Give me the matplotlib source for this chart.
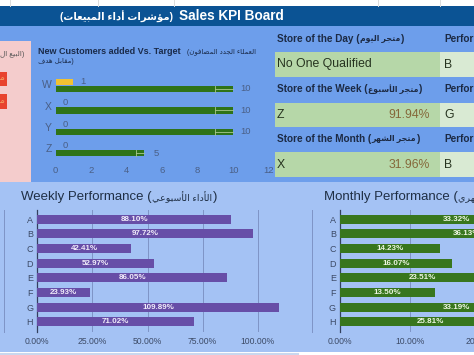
import unicodedata
import matplotlib
matplotlib.use("Agg")
import matplotlib.pyplot as plt
from matplotlib.patches import Rectangle

W, H = 474, 355
FAM = ['Liberation Sans', 'DejaVu Sans']
plt.rcParams['font.family'] = FAM

# ---- data
cust_cats = ['W', 'X', 'Y', 'Z']
cust_actual = [1, 0, 0, 0]
cust_target = [10, 10, 10, 5]
perf_cats = ['A', 'B', 'C', 'D', 'E', 'F', 'G', 'H']
weekly = [88.10, 97.72, 42.41, 52.97, 86.05, 23.93, 109.89, 71.02]
monthly = [33.32, 36.13, 14.23, 16.07, 23.51, 13.50, 33.19, 25.81]
store_names = ['No One Qualified', 'Z', 'X']
store_values = ['', '91.94%', '31.96%']
performers = ['B', 'G', 'B']

# ---- minimal Arabic shaping (matplotlib does not shape or reorder)
FORMS = {}
for cp in list(range(0xFE70, 0xFEFD)):
    ch = chr(cp)
    d = unicodedata.decomposition(ch).split()
    if len(d) == 2 and d[0] in ('<isolated>', '<final>', '<initial>', '<medial>'):
        FORMS.setdefault(chr(int(d[1], 16)), {})[d[0].strip('<>')] = ch
NOJOIN_NEXT = set('اأإآدذرزوؤة')

def ar(s):
    """Return Arabic text in visual order using presentation forms."""
    out = []
    for i, c in enumerate(s):
        if c not in FORMS:
            out.append(c)
            continue
        p = s[i - 1] if i else ' '
        n = s[i + 1] if i + 1 < len(s) else ' '
        left = p in FORMS and p not in NOJOIN_NEXT
        right = n in FORMS and c not in NOJOIN_NEXT
        f = FORMS[c]
        key = 'medial' if left and right else 'final' if left else 'initial' if right else 'isolated'
        out.append(f.get(key, f.get('final' if left else 'isolated', c)))
    return ''.join(reversed(out))

TITLE_AR = ar('مؤشرات أداء المبيعات')

fig = plt.figure(figsize=(W / 100, H / 100), dpi=100, facecolor='white')

# ---- page layer in pixel coordinates
pg = fig.add_axes([0, 0, 1, 1])
pg.set_xlim(0, W)
pg.set_ylim(H, 0)
pg.axis('off')

def rect(x0, y0, x1, y1, c, **kw):
    pg.add_patch(Rectangle((x0, y0), x1 - x0, y1 - y0, fc=c, ec='none', **kw))

def mixed(x, y, latin, arabic, fs, fsa, color, weight='normal'):
    """Latin text followed by a smaller parenthesised Arabic run."""
    t = pg.text(x, y, latin + ' (', color=color, fontsize=fs, fontweight=weight, va='center')
    r = fig.canvas.get_renderer()
    xa = x + t.get_window_extent(r).width + 0.5
    t2 = pg.text(xa, y, ar(arabic), color=color, fontsize=fsa, fontweight=weight, va='center')
    xb = xa + t2.get_window_extent(r).width + 0.5
    pg.text(xb, y, ')', color=color, fontsize=fs, fontweight=weight, va='center')

for x in (10, 98, 174, 378, 440):
    pg.plot([x, x], [0, 6], color='#dddddd', lw=0.7)
rect(0, 6, W, 26, '#0b5394')
rect(0, 26, W, 183, '#6d9eeb')
rect(0, 41, 31, 183, '#f4cccc')
rect(0, 182, W, 352, '#a4c2f4')
pg.plot([0, 298], [353.5, 353.5], color='#c9d7ee', lw=1.5)

# title
pg.text(284, 16.5, 'Sales KPI Board', color='white', fontsize=9.8, fontweight='bold', ha='right', va='center')
pg.text(173, 16.5, '(' + TITLE_AR + ')', color='white', fontsize=7.2, fontweight='bold', ha='right', va='center')

# left clipped panel
pg.text(24, 54, ar('البيع ال') + ')', color='#555555', fontsize=5.2, ha='right', va='center')
for y0, y1 in ((72, 86), (94, 109)):
    rect(0, y0, 7, y1, '#e8432e')
    pg.text(1.5, (y0 + y1) / 2, ar('هـ'), color='#f6b26b', fontsize=5, ha='center', va='center')

# customers title
pg.text(38, 52, 'New Customers added Vs. Target', color='#1a2b4a', fontsize=6.5, fontweight='bold', va='center')
pg.text(187, 52, '(' + ar('العملاء الجدد المضافون'), color='#1a2b4a', fontsize=5.0, va='center')
pg.text(38, 61.5, ar('مقابل هدف') + ')', color='#1a2b4a', fontsize=5.0, va='center')

# KPI table
rows = [('Store of the Day', 'متجر اليوم', 39, 52, 77),
        ('Store of the Week', 'متجر الأسبوع', 89, 103, 127),
        ('Store of the Month', 'متجر الشهر', 139, 152, 177)]
for i, (lat, arb, ty, y0, y1) in enumerate(rows):
    mixed(277, ty, lat, arb, 7.2, 5.6, '#1c2a44', 'bold')
    pg.text(444, ty, 'Perfor', color='#1c2a44', fontsize=7.2, fontweight='bold', va='center')
    rect(275, y0, 440, y1, '#b6d7a8')
    rect(440, y0, W, y1, '#d9ead3')
    mid = (y0 + y1) / 2
    pg.text(277, mid, store_names[i], color='#26331f', fontsize=8.8, va='center')
    pg.text(430, mid, store_values[i], color='#85683a', fontsize=8.8, ha='right', va='center')
    pg.text(444, mid, performers[i], color='#26331f', fontsize=8.8, va='center')

# chart titles
mixed(21, 197, 'Weekly Performance', 'الأداء الأسبوعي', 9.5, 6.8, '#1f2f45')
mixed(324, 197, 'Monthly Performance', 'الأداء الشهري', 9.5, 6.8, '#1f2f45')

def px_axes(x0, y0, x1, y1):
    a = fig.add_axes([x0 / W, 1 - y1 / H, (x1 - x0) / W, (y1 - y0) / H])
    a.patch.set_alpha(0)
    return a

# ---- customers bullet chart
c = px_axes(55.7, 75, 268.7, 163)
c.set_xlim(0, 12)
c.set_ylim(3.46, -0.654)
ys = list(range(len(cust_cats)))
c.barh([y - 0.33 for y in ys], cust_actual, height=0.28, color='#f1c232')
c.barh(ys, cust_target, height=0.3, color='#2f7318')
for y, a, t in zip(ys, cust_actual, cust_target):
    c.plot([t * 0.9, t * 0.9], [y - 0.15, y + 0.15], color='#a9c98f', lw=0.6)
    c.plot([t * 0.9, t], [y, y], color='#a9c98f', lw=0.6)
    c.text(t + 0.68, y, str(t), color='#4a5f86', fontsize=6.8, ha='center', va='center')
    c.text(a + 0.55, y - 0.33 - (0 if a else 0.03), str(a), color='#4a5f86', fontsize=6.8, ha='center', va='center')
c.set_yticks([y - 0.22 for y in ys], cust_cats)
c.set_xticks(range(0, 13, 2))
c.tick_params(length=0, labelsize=6.8, colors='#4a5f86', pad=2)
c.tick_params(axis='y', pad=3, labelsize=7.5)
for s in c.spines.values():
    s.set_visible(False)

# ---- performance charts
def perf(x0, x1, xmax, step, vals, color, labcolor, frame_x):
    a = px_axes(x0, 210, x1, 331.7)
    a.set_xlim(0, xmax)
    a.set_ylim(7.685, -0.637)
    yy = list(range(len(perf_cats)))
    a.barh(yy, vals, height=0.62, color=color, zorder=3)
    for y, v in zip(yy, vals):
        a.text(v / 2, y, f'{v:.2f}%', color=labcolor, fontsize=5.8, fontweight='bold',
               ha='center', va='center', zorder=4)
    a.set_yticks(yy, perf_cats)
    ticks = [i * step for i in range(int(xmax / step) + 1)]
    a.set_xticks(ticks, [f'{t:.2f}%' for t in ticks])
    a.grid(axis='x', color='#7e94c6', lw=0.7, zorder=1)
    a.set_axisbelow(True)
    a.tick_params(length=0, labelsize=6.2, colors='#3c4a66', pad=3.5)
    a.tick_params(axis='y', labelsize=6.5, pad=3)
    for n, s in a.spines.items():
        s.set_visible(n == 'left')
    a.spines['left'].set_color('#33415e')
    a.spines['left'].set_linewidth(0.9)
    pg.plot([frame_x, frame_x], [210, 331.7], color='#7e94c6', lw=0.7)
    return a

perf(37.3, 37.3 + 2.204 * 115, 115, 25, weekly, '#674ea7', '#f1ecfa', 4)
perf(340, 340 + 7 * 40, 40, 10, monthly, '#38761d', '#eef7e2', 312.3)

fig.savefig('out.png', dpi=100)
